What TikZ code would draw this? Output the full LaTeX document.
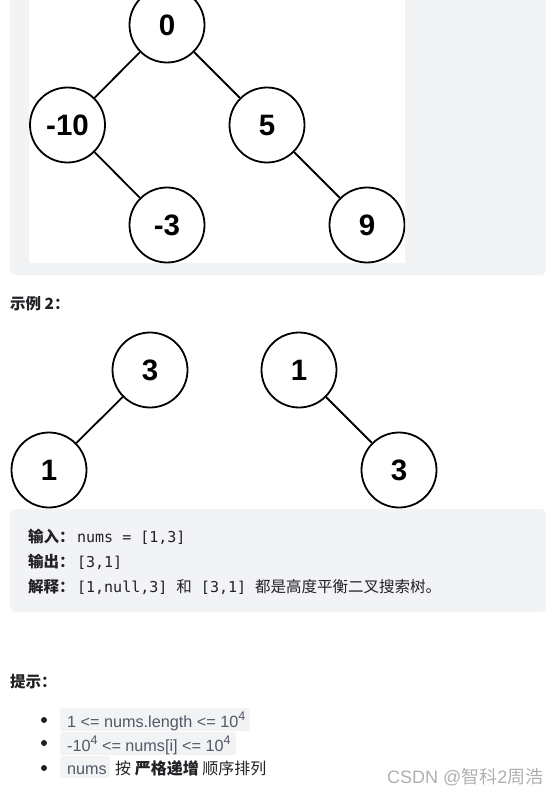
\documentclass[tikz,border=0pt]{standalone}
\usepackage{fontspec}
\setmainfont{Liberation Sans}
\newfontfamily\cjk{Noto Sans CJK SC}
\newfontfamily\code{DejaVu Sans Mono}
\definecolor{boxgray}{HTML}{F2F3F5}
\definecolor{pillgray}{HTML}{F2F3F5}
\definecolor{txt}{HTML}{222226}
\definecolor{pilltxt}{HTML}{555666}
\definecolor{wm}{HTML}{AFAFAF}
\newcommand{\supfour}{\raisebox{6.5pt}{\fontsize{12.5}{12.5}\selectfont 4}}
\tikzset{
  tnode/.style={circle,draw=black,line width=1.8pt,fill=white,minimum size=75pt,inner sep=0pt,
    font=\fontsize{29.5}{29.5}\selectfont\bfseries},
  tedge/.style={line width=1.8pt,black},
  lbl/.style={anchor=base west,inner sep=0pt,text=txt},
  hfont/.style={font={\cjk\fontsize{15.5}{15.5}\selectfont\bfseries}},
  cfont/.style={font={\code\fontsize{15}{15}\selectfont}},
  pill/.style={fill=pillgray,rounded corners=3pt},
  ptext/.style={anchor=base west,inner sep=0pt,text=pilltxt,font=\fontsize{16.2}{16.2}\selectfont},
  bul/.style={circle,fill=txt,inner sep=0pt,minimum size=6pt}
}
\begin{document}
\begin{tikzpicture}[x=1pt,y=-1pt]
\useasboundingbox (0,0) rectangle (558,794);
\clip (0,0) rectangle (558,794);
% top gray box
\fill[boxgray,rounded corners=5pt] (10,-20) rectangle (546,275);
\fill[white] (29,-5) rectangle (405,263);
\begin{scope}
\clip (29,-5) rectangle (405,263);
\node[tnode] (n0) at (167,25) {0};
\node[tnode] (nm10) at (67.5,125) {-10};
\node[tnode] (n5) at (267,125) {5};
\node[tnode] (nm3) at (167,225) {-3};
\node[tnode] (n9) at (367,225) {9};
\draw[tedge] (n0) -- (nm10);
\draw[tedge] (n0) -- (n5);
\draw[tedge] (nm10) -- (nm3);
\draw[tedge] (n5) -- (n9);
\end{scope}
% example 2 title
\node[lbl,hfont] (t2) at (10,309) {示例 2：};
% example 2 trees
\node[tnode] (a3) at (150,370) {3};
\node[tnode] (a1) at (49,470) {1};
\draw[tedge] (a3) -- (a1);
\node[tnode] (b1) at (299,370) {1};
\node[tnode] (b3) at (399,470) {3};
\draw[tedge] (b1) -- (b3);
% code box
\fill[boxgray,rounded corners=5pt] (10,509) rectangle (546,612);
\node[lbl,hfont] (in) at (28,542) {输入：};
\node[lbl,cfont,xshift=2pt] (inv) at (in.base east) {nums = [1,3]};
\node[lbl,hfont] (out) at (28,567) {输出：};
\node[lbl,cfont,xshift=2pt] (outv) at (out.base east) {[3,1]};
\node[lbl,hfont] (ex) at (28,592) {解释：};
\node[lbl,cfont,xshift=2pt] (exv) at (ex.base east) {[1,null,3] {\cjk\fontsize{15.5}{15.5}\selectfont 和} [3,1] {\cjk\fontsize{15.5}{15.5}\selectfont 都是高度平衡二叉搜索树。}};
% tips
\node[lbl,hfont] (tip) at (10,687) {提示：};
\node[bul] (b1d) at (44,720) {};
\node[bul] (b2d) at (44,743) {};
\node[bul] (b3d) at (44,768) {};
\fill[pill] (60,708) rectangle (250,731);
\fill[pill] (60,732) rectangle (236,755);
\fill[pill] (60,756) rectangle (110,778);
\node[ptext] (p1) at (67,727) {1 <= nums.length <= 10\supfour};
\node[ptext] (p2) at (67,751) {-10\supfour\ <= nums[i] <= 10\supfour};
\node[ptext] (p3) at (67,774) {nums};
\node[lbl,font={\cjk\fontsize{16}{16}\selectfont}] (p3b) at (115,774) {按 {\bfseries 严格递增} 顺序排列};
% watermark
\node[anchor=base west,inner sep=0pt,text=wm,font={\fontsize{18}{18}\selectfont}] (wmk) at (387,783) {CSDN @{\cjk 智科}2{\cjk 周浩}};
\end{tikzpicture}
\end{document}
